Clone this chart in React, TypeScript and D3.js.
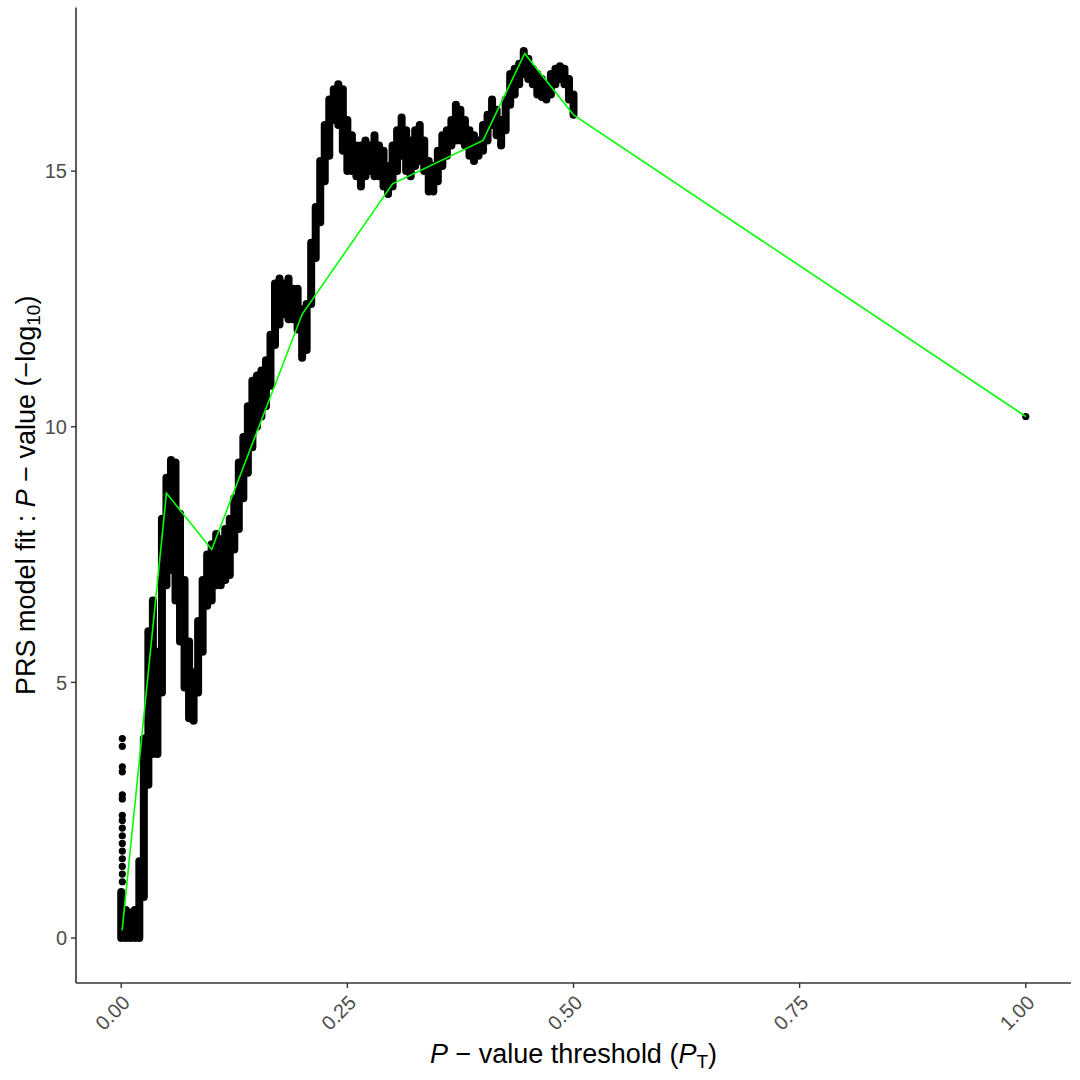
import { useEffect, useRef } from 'react';
import * as d3 from 'd3';

// high-resolution threshold scan (x = P-value threshold, y range of -log10 P per step)
const thresholds = [
  0.000, 0.005, 0.010, 0.015, 0.020, 0.025, 0.030, 0.035, 0.040, 0.045,
  0.050, 0.055, 0.060, 0.065, 0.070, 0.075, 0.080, 0.085, 0.090, 0.095,
  0.100, 0.105, 0.110, 0.115, 0.120, 0.125, 0.130, 0.135, 0.140, 0.145,
  0.150, 0.155, 0.160, 0.165, 0.170, 0.175, 0.180, 0.185, 0.190, 0.195,
  0.200, 0.205, 0.210, 0.215, 0.220, 0.225, 0.230, 0.235, 0.240, 0.245,
  0.250, 0.255, 0.260, 0.265, 0.270, 0.275, 0.280, 0.285, 0.290, 0.295,
  0.300, 0.305, 0.310, 0.315, 0.320, 0.325, 0.330, 0.335, 0.340, 0.345,
  0.350, 0.355, 0.360, 0.365, 0.370, 0.375, 0.380, 0.385, 0.390, 0.395,
  0.400, 0.405, 0.410, 0.415, 0.420, 0.425, 0.430, 0.435, 0.440, 0.445,
  0.450, 0.455, 0.460, 0.465, 0.470, 0.475, 0.480, 0.485, 0.490, 0.495,
  0.500,
];

const fitLow = [
  0.0, 0.0, 0.0, 0.0, 0.0, 0.8, 3.0, 3.6, 3.6, 4.8,
  6.9, 7.2, 6.6, 5.8, 4.9, 4.3, 4.25, 4.8, 5.6, 6.5,
  6.6, 6.9, 6.9, 7.0, 7.1, 7.6, 8.0, 8.6, 9.1, 9.6,
  10.0, 10.2, 10.4, 10.8, 11.6, 12.0, 12.2, 12.1, 12.1, 11.9,
  11.35, 11.5, 12.4, 13.3, 14.0, 14.8, 15.3, 16.0, 15.9, 15.4,
  15.0, 15.0, 14.9, 14.7, 14.9, 15.0, 14.9, 14.9, 14.7, 14.55,
  14.7, 15.0, 15.3, 15.0, 14.9, 15.1, 15.2, 15.0, 14.6, 14.6,
  14.8, 15.1, 15.3, 15.5, 15.6, 15.6, 15.5, 15.3, 15.2, 15.3,
  15.4, 15.6, 15.9, 15.7, 15.5, 15.8, 16.3, 16.5, 16.7, 16.9,
  16.8, 16.7, 16.5, 16.45, 16.4, 16.5, 16.7, 16.8, 16.7, 16.4,
  16.1,
];

const fitHigh = [
  0.9, 0.55, 0.5, 0.55, 1.5, 3.9, 6.0, 6.6, 5.6, 8.2,
  9.0, 9.35, 9.3, 8.3, 7.0, 5.8, 5.2, 6.2, 7.0, 7.5,
  7.7, 7.9, 7.8, 8.0, 8.2, 8.6, 9.3, 9.8, 10.4, 10.9,
  11.0, 11.1, 11.3, 11.8, 12.8, 12.9, 12.8, 12.9, 12.7, 12.7,
  12.3, 12.4, 13.6, 14.3, 15.2, 15.9, 16.4, 16.6, 16.7, 16.6,
  16.0, 15.7, 15.5, 15.5, 15.6, 15.5, 15.7, 15.5, 15.4, 15.1,
  15.5, 15.8, 16.05, 15.8, 15.6, 15.8, 15.9, 15.6, 15.2, 15.1,
  15.4, 15.7, 15.8, 16.0, 16.3, 16.2, 16.0, 15.8, 15.7, 15.6,
  15.9, 16.1, 16.4, 16.2, 16.0, 16.4, 16.9, 17.0, 17.1, 17.35,
  17.2, 17.0, 16.9, 16.8, 16.7, 16.9, 17.0, 17.05, 17.0, 16.8,
  16.5,
];

// isolated points in the very first threshold column
const sparseX = [0.0012, 0.0012, 0.0012, 0.0012, 0.0012, 0.0012, 0.0012, 0.0012, 0.0012, 0.0012, 0.0012, 0.0012, 0.0012, 0.0012, 0.0012, 0.0012];
const sparseY = [3.9, 3.75, 3.35, 3.25, 2.8, 2.72, 2.4, 2.3, 2.15, 2.0, 1.85, 1.7, 1.55, 1.4, 1.25, 1.1];

// the last threshold
const fullX = [1.0];
const fullY = [10.2];

// bar-level thresholds joined by the green line
const barX = [0.001, 0.05, 0.1, 0.2, 0.3, 0.4, 0.446, 0.5, 1.0];
const barY = [0.15, 8.7, 7.6, 12.2, 14.75, 15.6, 17.3, 16.1, 10.2];

const xTicks = [0, 0.25, 0.5, 0.75, 1.0];
const xTickLabels = ['0.00', '0.25', '0.50', '0.75', '1.00'];
const yTicks = [0, 5, 10, 15];

const FONT = '"Liberation Sans", Arial, Helvetica, sans-serif';

export default function App() {
  const svgRef = useRef<SVGSVGElement>(null);

  useEffect(() => {
    document.body.style.margin = '0';
    if (!svgRef.current) return;

    const svg = d3.select(svgRef.current);
    svg.selectAll('*').remove();

    const width = 1080;
    const height = 1080;
    const panel = { left: 76, right: 1071, top: 7.5, bottom: 983 };

    const x = d3.scaleLinear().domain([-0.05, 1.05]).range([panel.left, panel.right]);
    const y = d3.scaleLinear().domain([-0.88, 18.2]).range([panel.bottom, panel.top]);

    svg.append('rect').attr('width', width).attr('height', height).attr('fill', '#fff');

    // dense scan: each step drawn as a column of overlapping dots
    const scan = thresholds.map((t, i) => ({ t, lo: fitLow[i], hi: fitHigh[i] }));
    svg.append('g')
      .selectAll('line')
      .data(scan)
      .enter().append('line')
      .attr('x1', d => x(d.t))
      .attr('x2', d => x(d.t))
      .attr('y1', d => y(d.lo))
      .attr('y2', d => y(d.hi))
      .attr('stroke', '#000')
      .attr('stroke-width', 8)
      .attr('stroke-linecap', 'round');

    const singles = sparseX.map((v, i) => ({ x: v, y: sparseY[i] }))
      .concat(fullX.map((v, i) => ({ x: v, y: fullY[i] })));
    svg.append('g')
      .selectAll('circle')
      .data(singles)
      .enter().append('circle')
      .attr('cx', d => x(d.x))
      .attr('cy', d => y(d.y))
      .attr('r', 3.6)
      .attr('fill', '#000');

    // green line through the bar thresholds
    const line = d3.line<number>()
      .x((_, i) => x(barX[i]))
      .y(d => y(d));
    svg.append('path')
      .datum(barY)
      .attr('d', line)
      .attr('fill', 'none')
      .attr('stroke', '#00ff00')
      .attr('stroke-width', 1.6);

    // axes
    const axisColor = '#333333';
    svg.append('line')
      .attr('x1', panel.left).attr('x2', panel.left)
      .attr('y1', panel.top).attr('y2', panel.bottom)
      .attr('stroke', axisColor).attr('stroke-width', 1.6);
    svg.append('line')
      .attr('x1', panel.left).attr('x2', panel.right)
      .attr('y1', panel.bottom).attr('y2', panel.bottom)
      .attr('stroke', axisColor).attr('stroke-width', 1.6);

    const yAxis = svg.append('g');
    yTicks.forEach(t => {
      yAxis.append('line')
        .attr('x1', panel.left - 5).attr('x2', panel.left)
        .attr('y1', y(t)).attr('y2', y(t))
        .attr('stroke', axisColor).attr('stroke-width', 1.4);
      yAxis.append('text')
        .attr('x', panel.left - 9)
        .attr('y', y(t))
        .attr('dy', '0.36em')
        .attr('text-anchor', 'end')
        .attr('font-family', FONT)
        .attr('font-size', 20)
        .attr('fill', '#4d4d4d')
        .text(String(t));
    });

    const xAxis = svg.append('g');
    xTicks.forEach((t, i) => {
      xAxis.append('line')
        .attr('x1', x(t)).attr('x2', x(t))
        .attr('y1', panel.bottom).attr('y2', panel.bottom + 5)
        .attr('stroke', axisColor).attr('stroke-width', 1.4);
      const px = x(t) + 10;
      const py = panel.bottom + 21;
      xAxis.append('text')
        .attr('transform', `translate(${px},${py}) rotate(-45)`)
        .attr('text-anchor', 'end')
        .attr('font-family', FONT)
        .attr('font-size', 20)
        .attr('fill', '#4d4d4d')
        .text(xTickLabels[i]);
    });

    // x title
    const xTitle = svg.append('text')
      .attr('x', (panel.left + panel.right) / 2)
      .attr('y', 1063)
      .attr('text-anchor', 'middle')
      .attr('font-family', FONT)
      .attr('font-size', 27)
      .attr('fill', '#000');
    xTitle.append('tspan').attr('font-style', 'italic').text('P');
    xTitle.append('tspan').text(' \u2212 value threshold (');
    xTitle.append('tspan').attr('font-style', 'italic').text('P');
    xTitle.append('tspan').attr('font-size', 19).attr('dy', 5).text('T');
    xTitle.append('tspan').attr('dy', -5).text(')');

    // y title
    const yTitle = svg.append('text')
      .attr('transform', `translate(35,${(panel.top + panel.bottom) / 2}) rotate(-90)`)
      .attr('text-anchor', 'middle')
      .attr('font-family', FONT)
      .attr('font-size', 27)
      .attr('fill', '#000');
    yTitle.append('tspan').text('PRS model fit :  ');
    yTitle.append('tspan').attr('font-style', 'italic').text('P');
    yTitle.append('tspan').text(' \u2212 value (\u2212log');
    yTitle.append('tspan').attr('font-size', 19).attr('dy', 5).text('10');
    yTitle.append('tspan').attr('dy', -5).text(')');
  }, []);

  return <svg ref={svgRef} width={1080} height={1080} style={{ display: 'block' }} />;
}
